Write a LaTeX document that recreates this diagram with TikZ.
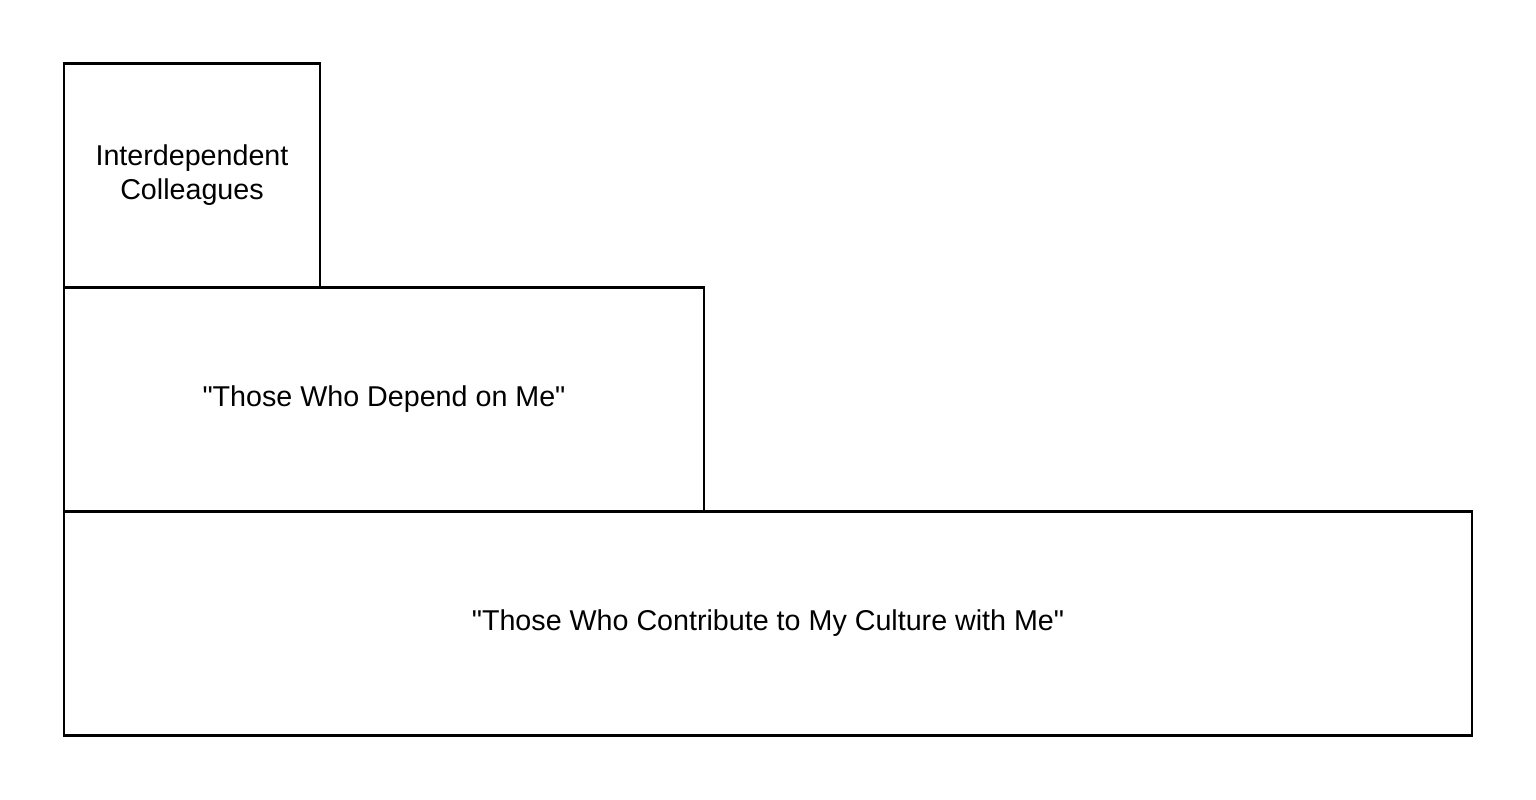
\documentclass[tikz,border=0pt]{standalone}
\usepackage{fontspec}
\setmainfont{Liberation Sans}
\usetikzlibrary{shapes,calc}
\tikzstyle{block} = [draw, rectangle, line width=1.8pt, outer sep=0pt, align=center, minimum height=168pt, font=\fontsize{21.5}{25.5}\selectfont]

\begin{document}
\begin{tikzpicture}
        \useasboundingbox (0,0) rectangle (1152pt,-600pt);
        \node[block, minimum width=192pt, anchor=north west] (colleagues) at (48pt,-47.5pt) {Interdependent\\Colleagues};
        \node[block, minimum width=480pt, anchor=north west] (depend) at (colleagues.south west) {\textquotedbl Those Who Depend on Me\textquotedbl};
        \node[block, minimum width=1056pt, anchor=north west] (culture) at (depend.south west) {\textquotedbl Those Who Contribute to My Culture with Me\textquotedbl};
    \end{tikzpicture}
\end{document}
